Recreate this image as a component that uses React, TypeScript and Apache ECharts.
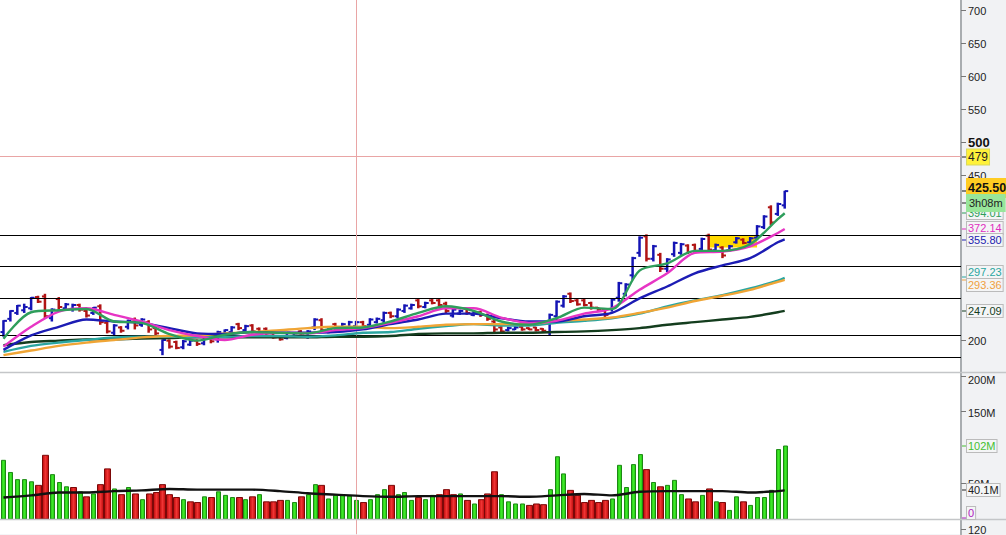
import * as echarts from 'echarts';
import React, { useEffect, useRef } from 'react';

const BLANK_SLOTS = 25;

const highs = [
  230, 245, 253, 255, 265, 267, 270, 248, 265, 256, 255, 255, 246, 250, 254, 228, 224, 221, 231, 234,
  233, 230, 220, 201, 201, 199, 200, 201, 201, 205, 207, 214, 216, 221, 226, 223, 224, 219, 219, 212,
  207, 212, 212, 215, 215, 233, 233, 218, 226, 226, 229, 229, 229, 233, 234, 243, 243, 248, 254, 255,
  262, 258, 262, 262, 258, 248, 246, 249, 244, 244, 240, 231, 221, 220, 221, 221, 219, 220, 218, 240,
  260, 268, 272, 262, 262, 258, 250, 248, 263, 288, 286, 326, 357, 360, 344, 332, 324, 349, 347, 345,
  346, 355, 361, 346, 342, 344, 356, 354, 356, 374, 389, 404, 408, 426,
];
const lows = [
  205, 228, 238, 241, 245, 256, 233, 228, 246, 245, 243, 243, 234, 238, 223, 210, 207, 211, 216, 216,
  220, 211, 207, 177, 187, 186, 186, 191, 191, 192, 195, 196, 207, 210, 215, 213, 210, 210, 207, 202,
  199, 201, 204, 205, 202, 215, 212, 210, 215, 215, 216, 219, 219, 220, 225, 226, 233, 233, 241, 246,
  248, 248, 254, 250, 240, 234, 238, 238, 236, 235, 229, 212, 210, 213, 215, 214, 215, 213, 212, 207,
  230, 249, 256, 252, 251, 246, 244, 235, 243, 258, 266, 291, 326, 319, 319, 303, 303, 326, 329, 330,
  332, 335, 334, 334, 324, 334, 346, 345, 346, 351, 368, 374, 388, 399,
];
const opens = [
  212, 232, 241, 245, 248, 265, 266, 233, 262, 248, 247, 253, 244, 241, 251, 226, 211, 219, 220, 231,
  223, 227, 218, 185, 199, 197, 189, 193, 199, 195, 205, 201, 209, 212, 224, 215, 222, 217, 217, 210,
  205, 203, 206, 213, 205, 219, 230, 212, 224, 217, 219, 221, 227, 223, 227, 230, 241, 236, 244, 248,
  260, 250, 260, 260, 255, 237, 240, 247, 238, 242, 238, 228, 219, 215, 216, 220, 218, 219, 217, 212,
  236, 252, 270, 260, 260, 256, 249, 246, 247, 264, 270, 298, 332, 357, 323, 329, 308, 330, 332, 343,
  344, 338, 358, 336, 340, 336, 348, 352, 348, 355, 371, 401, 391, 404,
];
const closes = [
  229, 244, 252, 250, 264, 258, 236, 246, 250, 254, 253, 246, 237, 249, 227, 213, 222, 214, 229, 222,
  231, 216, 210, 200, 190, 188, 198, 199, 194, 203, 198, 212, 215, 219, 218, 221, 213, 212, 210, 204,
  201, 211, 210, 207, 213, 231, 215, 216, 218, 224, 227, 227, 221, 231, 232, 241, 236, 246, 252, 253,
  251, 256, 256, 253, 244, 246, 244, 241, 242, 238, 232, 216, 213, 218, 219, 216, 216, 215, 214, 238,
  258, 266, 259, 254, 253, 249, 246, 238, 261, 286, 284, 324, 355, 323, 342, 308, 322, 347, 345, 333,
  335, 353, 337, 344, 328, 342, 354, 347, 354, 372, 387, 378, 406, 425.5,
];

const maBars = [
  0, 4, 8, 12, 16, 20, 24, 28, 32, 36, 40, 44, 48, 52, 56, 60, 64, 68, 72, 76, 80, 84, 88, 92, 96, 100,
  104, 108, 112, 113,
];
const maGreen = [
  202, 242, 245, 247, 228, 226, 209, 199, 208, 212, 211, 210, 218, 219, 228, 241, 251, 244, 228, 223,
  233, 249, 247, 305, 316, 335, 335, 345, 383, 392,
];
const maMagenta = [
  190, 220, 243, 248, 238, 228, 215, 206, 200, 208, 211, 210, 215, 218, 226, 236, 248, 248, 234, 226,
  229, 240, 248, 276, 301, 332, 334, 342, 362, 368,
];
const maBlue = [
  185, 207, 220, 231, 228, 226, 218, 210, 209, 212, 211, 211, 212, 216, 224, 231, 240, 240, 233, 228,
  228, 236, 241, 263, 281, 301, 313, 324, 348, 352.5,
];
const maTeal = [
  182, 191, 196, 200, 204, 205, 205, 205, 205, 206, 206, 205, 207, 211, 212, 217, 221, 224, 222, 222,
  226, 229, 233, 240, 251, 260, 268, 278, 290, 294,
];
const maOrange = [
  177, 184, 191, 196, 200, 204, 206, 207, 210, 212, 215, 218, 220, 220, 218, 220, 223, 224, 224, 224,
  229, 231, 234, 241, 249, 259, 267, 276, 288, 291,
];
const maDark = [
  192, 197, 199, 201, 201, 202, 203, 204, 204, 204, 204, 204, 205, 205, 206, 209, 210, 210, 211, 211,
  212, 213, 215, 218, 223, 227, 231, 235, 242, 244,
];

const volumes = [
  82, 65, 55, 55, 52, 47, 89, 62, 51, 45, 44, 38, 31, 35, 48, 70, 42, 34, 44, 35,
  27, 35, 37, 48, 34, 30, 27, 24, 23, 31, 30, 38, 33, 30, 30, 27, 31, 34, 24, 24,
  26, 26, 23, 31, 34, 48, 47, 28, 33, 33, 32, 26, 23, 27, 34, 41, 47, 34, 37, 26,
  30, 27, 33, 34, 41, 34, 35, 26, 21, 27, 35, 66, 34, 24, 21, 21, 19, 21, 20, 41,
  87, 63, 40, 33, 23, 26, 23, 26, 28, 75, 44, 76, 90, 69, 51, 45, 47, 54, 34, 28,
  24, 33, 42, 24, 23, 12, 31, 24, 19, 30, 30, 40, 97, 102,
];
const redVolumeBars = [
  5, 6, 10, 12, 14, 15, 17, 19, 21, 22, 23, 24, 25, 27, 28, 30, 34, 36, 38, 39, 40, 43, 46, 52, 56, 60,
  63, 64, 65, 67, 69, 70, 71, 76, 77, 78, 82, 83, 84, 85, 86, 87, 93, 95, 99, 100, 102, 104, 107,
];
const volumeAverage = [
  30, 33, 37, 37, 39, 40, 42, 41, 41, 41, 39, 36, 34, 32, 31, 32, 32, 32, 32, 31, 33, 35, 33, 38, 39,
  39, 39, 37, 39, 40,
];

const priceLevels = [359, 312, 263.5, 207.5, 174];
const cursorPrice = 479;
const cursorBar = 51;
const highlightBars = [102, 109];
const highlightPrices = [359, 340];

const priceTicks = [200, 450, 500, 550, 600, 650, 700];
const volumeTicks = [50, 150, 200];
const lowerTicks = [120];

const FONT = '"Liberation Sans", Arial, sans-serif';
const SMALL = `11px ${FONT}`;

const tags = [
  { text: '479', y: 157, tick: 157, color: '#222', bg: '#fff13a', border: '#d8d860', font: `12px ${FONT}`, padding: [2, 1, 1, 1] },
  { text: '394.01', y: 213, tick: 213, color: '#2e9e5b', bg: '#f4f5f6', border: '#bbb', font: SMALL, padding: [1, 1, 0, 1] },
  { text: '425.50', y: 188, tick: 191, color: '#111', bg: '#ffcc22', border: '#ffcc22', font: `bold 12.5px ${FONT}`, padding: [3, 1, 2, 1] },
  { text: '3h08m', y: 203, tick: 203, color: '#222', bg: '#98e69a', border: '#98e69a', font: SMALL, padding: [3, 2, 2, 2] },
  { text: '372.14', y: 228, tick: 229, color: '#e02fc0', bg: '#f4f5f6', border: '#bbb', font: SMALL, padding: [1, 1, 0, 1] },
  { text: '355.80', y: 240, tick: 240, color: '#2222b0', bg: '#f4f5f6', border: '#bbb', font: SMALL, padding: [1, 1, 0, 1] },
  { text: '297.23', y: 272, tick: 277, color: '#2aa6a0', bg: '#f4f5f6', border: '#bbb', font: SMALL, padding: [1, 1, 0, 1] },
  { text: '293.36', y: 285, tick: 280, color: '#f0a040', bg: '#f4f5f6', border: '#bbb', font: SMALL, padding: [1, 1, 0, 1] },
  { text: '247.09', y: 311, tick: 311, color: '#143d1e', bg: '#f4f5f6', border: '#bbb', font: SMALL, padding: [1, 1, 0, 1] },
  { text: '102M', y: 446, tick: 446, color: '#44c030', bg: '#f4f5f6', border: '#bbb', font: SMALL, padding: [1, 1, 0, 1] },
  { text: '40.1M', y: 490, tick: 490, color: '#222', bg: '#f4f5f6', border: '#bbb', font: SMALL, padding: [1, 1, 0, 1] },
  { text: '0', y: 513, tick: 518, color: '#b020c0', bg: '#f4f5f6', border: '#bbb', font: SMALL, padding: [1, 1, 0, 1] },
];

const slots = Array.from({ length: highs.length + BLANK_SLOTS }, (_, i) => String(i));

const barGradient = (edge: string, middle: string) =>
  new echarts.graphic.LinearGradient(0, 0, 1, 0, [
    { offset: 0, color: edge },
    { offset: 0.5, color: middle },
    { offset: 1, color: edge },
  ]);
const redFill = barGradient('#bd0a0a', '#f03434');
const greenFill = barGradient('#24c80e', '#3ee62a');

const averageLine = (values: number[], color: string, name: string) => ({
  name,
  type: 'line' as const,
  data: values.map((v, k) => [maBars[k], v]),
  xAxisIndex: 0,
  yAxisIndex: 0,
  smooth: 0.3,
  showSymbol: false,
  silent: true,
  z: 5,
  lineStyle: { color, width: 2.4 },
});

const renderOhlc = (params: any, api: any) => {
  const i = api.value(0);
  const open = api.coord([i, api.value(1)]);
  const close = api.coord([i, api.value(2)]);
  const low = api.coord([i, api.value(3)]);
  const high = api.coord([i, api.value(4)]);
  const stroke = api.value(2) >= api.value(1) ? '#1414b4' : '#b01414';
  const tick = { stroke, lineWidth: 2, fill: 'none' };
  return {
    type: 'group',
    children: [
      { type: 'line', shape: { x1: high[0], y1: high[1], x2: low[0], y2: low[1] }, style: { ...tick, lineWidth: 2.5 } },
      { type: 'line', shape: { x1: open[0] - 3, y1: open[1], x2: open[0], y2: open[1] }, style: tick },
      { type: 'line', shape: { x1: close[0], y1: close[1], x2: close[0] + 3.5, y2: close[1] }, style: tick },
    ],
  };
};

// red volume bars are wider than the green ones, so a plain bar series won't do
const renderVolume = (params: any, api: any) => {
  const i = api.value(0);
  const top = api.coord([i, api.value(1)]);
  const base = api.coord([i, 0]);
  const red = redVolumeBars.includes(i);
  const width = red ? 6 : 4;
  return {
    type: 'rect',
    shape: { x: Math.round(top[0] - width / 2) + 0.5, y: top[1], width, height: base[1] - top[1] },
    style: { fill: red ? redFill : greenFill, stroke: red ? '#7c0808' : '#1c8a14', lineWidth: 1 },
  };
};

const App: React.FC = () => {
  const chartRef = useRef<HTMLDivElement>(null);

  useEffect(() => {
    document.body.style.margin = '0';
    if (!chartRef.current) return;
    const chart = echarts.init(chartRef.current, undefined, { renderer: 'svg' });

    const axisBase = {
      position: 'right' as const,
      splitLine: { show: false },
      axisLine: { show: true, lineStyle: { color: '#a9adb0', width: 2 } },
      axisTick: { show: true, length: 5, lineStyle: { color: '#777' } },
    };
    const labelBase = { color: '#222', fontSize: 11, fontFamily: FONT, margin: 7, padding: [2, 0, 0, 0] };
    const cursorLine = {
      symbol: 'none',
      silent: true,
      animation: false,
      label: { show: false },
      lineStyle: { color: '#e9a5a5', width: 1, type: 'solid' as const },
      data: [{ xAxis: cursorBar }],
    };

    chart.setOption({
      animation: false,
      backgroundColor: '#f1f2f4',
      grid: [
        { left: 0, right: 45, top: 0, height: 373, show: true, backgroundColor: '#fff', borderWidth: 0 },
        { left: 0, right: 45, top: 373, height: 146, show: true, backgroundColor: '#fff', borderWidth: 0 },
        { left: 0, right: 45, top: 520, height: 15, show: true, backgroundColor: '#fff', borderWidth: 0 },
      ],
      xAxis: [0, 1, 2].map((gridIndex) => ({ type: 'category', gridIndex, data: slots, show: false })),
      yAxis: [
        {
          ...axisBase,
          type: 'value',
          gridIndex: 0,
          min: 150,
          max: 715,
          axisTick: { ...axisBase.axisTick, customValues: priceTicks },
          axisLabel: {
            ...labelBase,
            customValues: priceTicks,
            formatter: (v: number) => (v === 500 ? `{big|${v}}` : `${v}`),
            rich: { big: { fontSize: 13, fontWeight: 'bold', color: '#111', fontFamily: FONT } },
          },
        },
        {
          ...axisBase,
          type: 'value',
          gridIndex: 1,
          min: 0,
          max: 204,
          axisTick: { ...axisBase.axisTick, customValues: volumeTicks },
          axisLabel: {
            ...labelBase,
            customValues: volumeTicks,
            formatter: (v: number) => (v === 200 ? `{top|${v}M}` : `${v}M`),
            rich: { top: { fontSize: 11, color: '#222', fontFamily: FONT, padding: [6, 0, 0, 0] } },
          },
        },
        {
          ...axisBase,
          type: 'value',
          gridIndex: 2,
          min: 115,
          max: 130,
          axisTick: { ...axisBase.axisTick, customValues: lowerTicks },
          axisLabel: { ...labelBase, customValues: lowerTicks },
        },
      ],
      series: [
        {
          name: 'levels',
          type: 'line',
          xAxisIndex: 0,
          yAxisIndex: 0,
          data: [],
          z: 1,
          markArea: {
            silent: true,
            itemStyle: { color: '#ffd900' },
            data: [[
              { xAxis: highlightBars[0], yAxis: highlightPrices[0] },
              { xAxis: highlightBars[1], yAxis: highlightPrices[1] },
            ]],
          },
          markLine: {
            symbol: 'none',
            silent: true,
            animation: false,
            label: { show: false },
            lineStyle: { color: '#000', width: 1, type: 'solid' },
            data: [
              ...priceLevels.map((yAxis) => ({ yAxis })),
              { yAxis: cursorPrice, lineStyle: { color: '#e9a5a5', width: 1, type: 'solid' } },
              { xAxis: cursorBar, lineStyle: { color: '#e9a5a5', width: 1, type: 'solid' } },
            ],
          },
        },
        {
          name: 'price',
          type: 'custom',
          xAxisIndex: 0,
          yAxisIndex: 0,
          renderItem: renderOhlc,
          encode: { x: 0, y: [1, 2, 3, 4] },
          data: highs.map((h, i) => [i, opens[i], closes[i], lows[i], h]),
          silent: true,
          z: 3,
        },
        averageLine(maDark, '#143d1e', 'ma dark'),
        averageLine(maTeal, '#2aa6a0', 'ma teal'),
        averageLine(maOrange, '#f0a535', 'ma orange'),
        averageLine(maBlue, '#1c1cb4', 'ma blue'),
        averageLine(maMagenta, '#e735c4', 'ma magenta'),
        averageLine(maGreen, '#2e9e5b', 'ma green'),
        {
          name: 'volume',
          type: 'custom',
          xAxisIndex: 1,
          yAxisIndex: 1,
          renderItem: renderVolume,
          encode: { x: 0, y: 1 },
          data: volumes.map((v, i) => [i, v]),
          silent: true,
          z: 3,
          markLine: cursorLine,
        },
        {
          name: 'volume average',
          type: 'line',
          xAxisIndex: 1,
          yAxisIndex: 1,
          data: volumeAverage.map((v, k) => [maBars[k], v]),
          smooth: 0.3,
          showSymbol: false,
          silent: true,
          z: 5,
          lineStyle: { color: '#111', width: 2.4 },
        },
        {
          name: 'lower pane',
          type: 'line',
          xAxisIndex: 2,
          yAxisIndex: 2,
          data: [],
          markLine: cursorLine,
        },
      ],
      graphic: [
        { type: 'line', z: 50, shape: { x1: 0, y1: 372.5, x2: 1006, y2: 372.5 }, style: { stroke: '#c4c6c8', lineWidth: 1.5 } },
        { type: 'line', z: 50, shape: { x1: 0, y1: 519.5, x2: 1006, y2: 519.5 }, style: { stroke: '#c4c6c8', lineWidth: 1.5 } },
        ...tags.map((t) => ({
          type: 'line',
          z: 55,
          shape: { x1: 962, y1: t.tick, x2: 967, y2: t.tick },
          style: { stroke: t.color, lineWidth: 1 },
        })),
        ...tags.map((t, k) => ({
          type: 'text',
          z: 60 + k,
          x: 967,
          y: t.y,
          style: {
            text: t.text,
            fill: t.color,
            font: t.font,
            verticalAlign: 'middle',
            backgroundColor: t.bg,
            borderColor: t.border,
            borderWidth: 1,
            padding: t.padding,
          },
        })),
      ],
    });

    return () => {
      chart.dispose();
    };
  }, []);

  return <div ref={chartRef} style={{ width: 1006, height: 535 }} />;
};

export default App;
